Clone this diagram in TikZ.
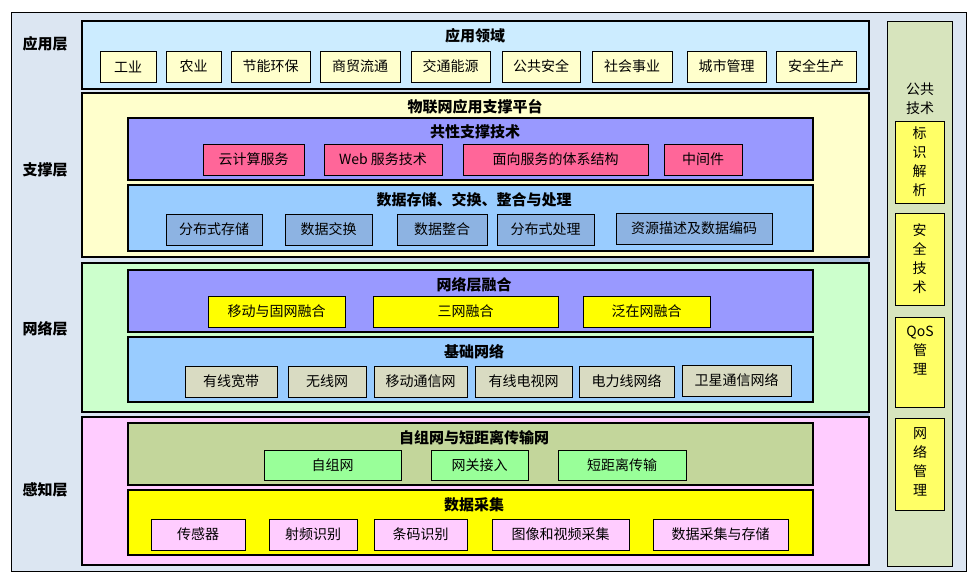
\documentclass[tikz,border=0pt]{standalone}
\usepackage{fontspec}
\setmainfont{Noto Sans CJK SC}
\usepackage{tikz}

\definecolor{framebg}{HTML}{DCE6F2}
\definecolor{gapbg}{HTML}{A9C0DE}
\definecolor{appbg}{HTML}{CCECFF}
\definecolor{supbg}{HTML}{FFFFCC}
\definecolor{netbg}{HTML}{CCFFCC}
\definecolor{perbg}{HTML}{FFCCFF}
\definecolor{purplebg}{HTML}{9999FF}
\definecolor{bluebg}{HTML}{99CCFF}
\definecolor{olivebg}{HTML}{C3D69B}
\definecolor{yellowbg}{HTML}{FFFF00}
\definecolor{pinkleaf}{HTML}{FF6699}
\definecolor{steelleaf}{HTML}{8DB3E2}
\definecolor{tanleaf}{HTML}{D9DBC2}
\definecolor{greenleaf}{HTML}{99FF99}
\definecolor{colbg}{HTML}{D7E4BD}
\definecolor{colleaf}{HTML}{FFFF66}

\begin{document}
\begin{tikzpicture}[x=1pt,y=-1pt,
	layer/.style={draw, line width=1.3pt, inner sep=0pt},
	panel/.style={draw, line width=1.1pt, inner sep=0pt, minimum width=685},
	leaf/.style={draw, line width=0.9pt, inner sep=0pt, minimum height=31,
		font=\fontsize{14}{16}\selectfont},
	title/.style={font=\bfseries\fontsize{15}{17}\selectfont},
	side/.style={draw, line width=0.9pt, inner sep=0pt, fill=colleaf,
		minimum width=49},
	vtext/.style={align=center, font=\fontsize{14}{19}\selectfont}]
	\useasboundingbox (0,0) rectangle (975,583);

	\node(frame) [draw, fill=framebg, anchor=north west, minimum width=955, minimum height=559] at (11,12) {};
	\shade[left color=framebg, right color=gapbg] (82,89) rectangle (869,417);

	% layers
	\node(app) [layer, fill=appbg, minimum width=787, minimum height=68] at (475.5,55) {};
	\node(sup) [layer, fill=supbg, minimum width=787, minimum height=164] at (475.5,175) {};
	\node(net) [layer, fill=netbg, minimum width=787, minimum height=149] at (475.5,337.5) {};
	\node(per) [layer, fill=perbg, minimum width=787, minimum height=148] at (475.5,491) {};

	\node(Lapp) [title] at (45,44) {应用层};
	\node(Lsup) [title] at (45,170) {支撑层};
	\node(Lnet) [title] at (45,329) {网络层};
	\node(Lper) [title] at (45,490) {感知层};

	% panels
	\node(gx) [panel, fill=purplebg, minimum height=62] at (470.5,149) {};
	\node(sj) [panel, fill=bluebg, minimum height=66] at (470.5,218) {};
	\node(rh) [panel, fill=purplebg, minimum height=62] at (470.5,301) {};
	\node(jc) [panel, fill=bluebg, minimum height=65] at (470.5,369.5) {};
	\node(zz) [panel, fill=olivebg, minimum height=62] at (470.5,454) {};
	\node(cj) [panel, fill=yellowbg, minimum height=65] at (470.5,522.5) {};

	\node(Tapp) [title] at (475,36) {应用领域};
	\node(Tsup) [title] at (475,107) {物联网应用支撑平台};
	\node(Tgx) [title] at (475,132) {共性支撑技术};
	\node(Tsj) [title] at (474,200) {数据存储、交换、整合与处理};
	\node(Trh) [title] at (474,285) {网络层融合};
	\node(Tjc) [title] at (474,352) {基础网络};
	\node(Tzz) [title] at (474,438) {自组网与短距离传输网};
	\node(Tcj) [title] at (474,505) {数据采集};

	% application row
	\node(gy) [leaf, fill=supbg, minimum width=56] at (128,66.5) {工业};
	\node(ny) [leaf, fill=supbg, minimum width=55] at (193.5,66.5) {农业};
	\node(jn) [leaf, fill=supbg, minimum width=79] at (270.5,66.5) {节能环保};
	\node(sm) [leaf, fill=supbg, minimum width=80] at (360,66.5) {商贸流通};
	\node(jt) [leaf, fill=supbg, minimum width=79] at (450.5,66.5) {交通能源};
	\node(gg) [leaf, fill=supbg, minimum width=78] at (541,66.5) {公共安全};
	\node(sh) [leaf, fill=supbg, minimum width=80] at (632,66.5) {社会事业};
	\node(cs) [leaf, fill=supbg, minimum width=79] at (726.5,66.5) {城市管理};
	\node(aq) [leaf, fill=supbg, minimum width=80] at (816,66.5) {安全生产};

	% support rows
	\node(yjs) [leaf, fill=pinkleaf, minimum width=101] at (253.5,159.5) {云计算服务};
	\node(web) [leaf, fill=pinkleaf, minimum width=118] at (383,159.5) {Web 服务技术};
	\node(soa) [leaf, fill=pinkleaf, minimum width=185] at (555.5,159.5) {面向服务的体系结构};
	\node(zjj) [leaf, fill=pinkleaf, minimum width=78] at (703,159.5) {中间件};

	\node(fcc) [leaf, fill=steelleaf, minimum width=96] at (214,229.5) {分布式存储};
	\node(sjh) [leaf, fill=steelleaf, minimum width=87] at (328.5,229.5) {数据交换};
	\node(szh) [leaf, fill=steelleaf, minimum width=90] at (442,229.5) {数据整合};
	\node(fcl) [leaf, fill=steelleaf, minimum width=97] at (545.5,229.5) {分布式处理};
	\node(zyms) [leaf, fill=steelleaf, minimum width=156] at (694,228.5) {资源描述及数据编码};

	% network rows
	\node(ydg) [leaf, fill=yellowbg, minimum width=137] at (276.5,311.5) {移动与固网融合};
	\node(swr) [leaf, fill=yellowbg, minimum width=185] at (465.5,311.5) {三网融合};
	\node(fzw) [leaf, fill=yellowbg, minimum width=127] at (646.5,311.5) {泛在网融合};

	\node(yxkd) [leaf, fill=tanleaf, minimum width=92] at (231,381.5) {有线宽带};
	\node(wxw) [leaf, fill=tanleaf, minimum width=78] at (327,381.5) {无线网};
	\node(ydtx) [leaf, fill=tanleaf, minimum width=93] at (420.5,381.5) {移动通信网};
	\node(yxds) [leaf, fill=tanleaf, minimum width=97] at (523.5,381.5) {有线电视网};
	\node(dlx) [leaf, fill=tanleaf, minimum width=95] at (626.5,381.5) {电力线网络};
	\node(wxtx) [leaf, fill=tanleaf, minimum width=109] at (736.5,380.5) {卫星通信网络};

	% perception rows
	\node(zzw) [leaf, fill=greenleaf, minimum width=137, minimum height=30] at (332.5,465) {自组网};
	\node(wgjr) [leaf, fill=greenleaf, minimum width=97, minimum height=30] at (479.5,465) {网关接入};
	\node(dcs) [leaf, fill=greenleaf, minimum width=128, minimum height=30] at (622,465) {短距离传输};

	\node(cgq) [leaf, fill=perbg, minimum width=94] at (198,534.5) {传感器};
	\node(spsb) [leaf, fill=perbg, minimum width=88] at (313,534.5) {射频识别};
	\node(txsb) [leaf, fill=perbg, minimum width=93] at (420.5,534.5) {条码识别};
	\node(txcj) [leaf, fill=perbg, minimum width=137] at (560.5,534.5) {图像和视频采集};
	\node(sjcc) [leaf, fill=perbg, minimum width=135] at (720.5,534.5) {数据采集与存储};

	% common technology column
	\node(col) [draw, line width=0.9pt, fill=colbg, minimum width=65, minimum height=545, inner sep=0pt] at (919.5,293.5) {};
	\node(Tcol) [vtext] at (920,98.5) {公共\\技术};
	\node(bs) [side, minimum height=82] at (919.5,162) {};
	\node(aqjs) [side, minimum height=92] at (919.5,259) {};
	\node(qos) [side, minimum height=90] at (919.5,362) {};
	\node(wlgl) [side, minimum height=92] at (919.5,464) {};
	\node(Tbs) [vtext] at (bs) {标\\识\\解\\析};
	\node(Taq) [vtext] at (aqjs) {安\\全\\技\\术};
	\node(Tqos) [vtext, anchor=north] at (920,323) {QoS\\管\\理};
	\node(Twl) [vtext] at (920,462) {网\\络\\管\\理};

\end{tikzpicture}
\end{document}
